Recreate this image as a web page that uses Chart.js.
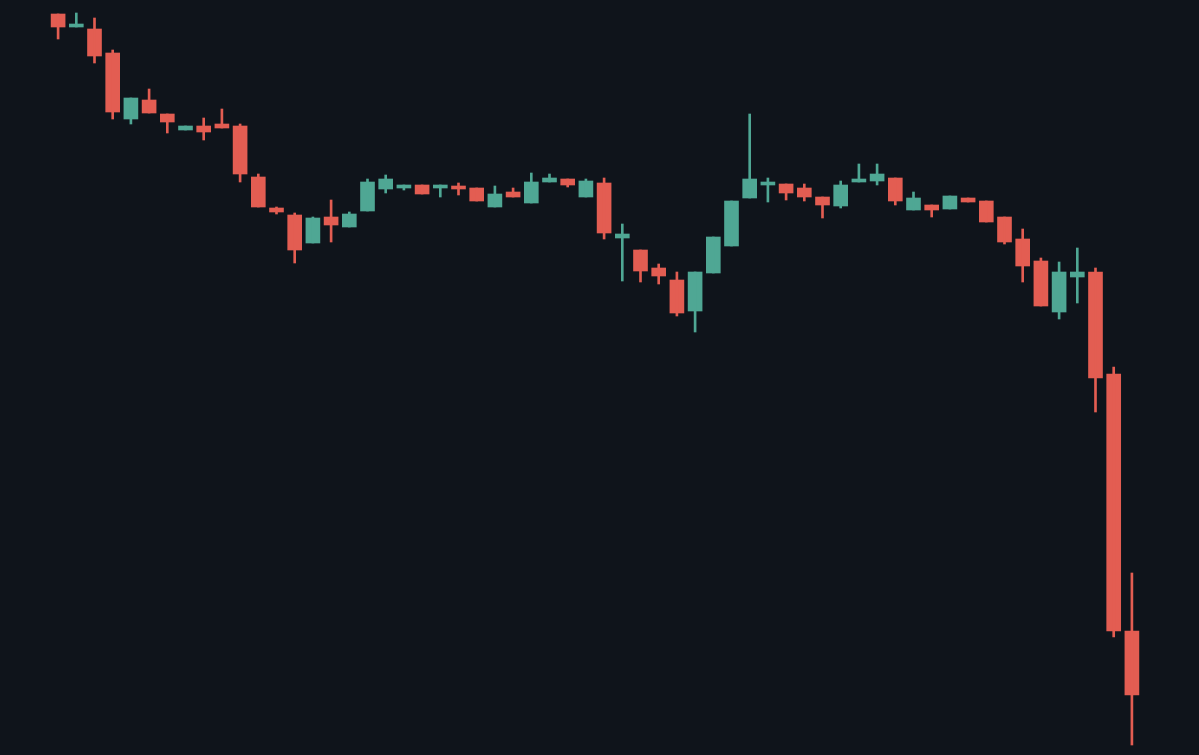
<!DOCTYPE html>
<html>
<head>
<meta charset="utf-8">
<script src="https://cdn.jsdelivr.net/npm/chart.js@4.4.1/dist/chart.umd.min.js"></script>
<style>
    html, body { margin: 0; padding: 0; background: #0f141b; }
    #wrap { width: 1199px; height: 755px; }
</style>
</head>
<body>
<div id="wrap"><canvas id="candles"></canvas></div>
<script>
// OHLC values (60 sessions)
const sessions = Array.from({ length: 60 }, (_, i) => String(i + 1));
const open  = [741,728,726,702,636,655,641,625,629,631,629,578,547,540,512,538,528,544,566,567,
               570,567,569,567,548,563,552,573,576,558,572,517,505,487,475,444,482,509,557,570,
               571,567,558,549,573,574,577,545,550,546,557,554,538,516,494,443,478,483,381,124];
const high  = [741,742,737,705,657,666,641,629,637,646,631,581,548,542,538,555,543,576,580,570,
               570,570,572,567,569,567,582,581,576,576,577,531,505,491,483,483,518,554,641,577,
               571,571,558,574,591,591,577,563,550,559,557,554,538,526,497,493,507,487,388,182];
const low   = [716,728,692,636,631,642,622,625,615,627,573,548,541,492,512,513,528,544,562,565,
               561,558,560,554,548,558,552,573,568,558,516,474,473,471,439,423,482,509,557,553,
               555,554,537,547,573,570,550,545,538,546,553,533,511,473,449,436,452,343,118,10];
const close = [728,731,699,643,657,642,633,629,623,627,581,548,543,505,537,530,541,573,576,570,
               561,570,566,554,561,558,573,577,570,574,522,521,484,479,442,483,518,554,576,573,
               562,558,550,570,576,581,554,557,545,559,553,533,513,489,449,483,483,377,124,60];

const upColor = '#4fa794';
const downColor = '#e35d52';
const colors = close.map((c, i) => (c >= open[i] ? upColor : downColor));

const ctx = document.getElementById('candles').getContext('2d');
const chart = new Chart(ctx, {
    type: 'bar',
    data: {
        labels: sessions,
        datasets: [{
            // wicks
            data: sessions.map((_, i) => [low[i], high[i]]),
            backgroundColor: colors,
            barThickness: 2,
            borderWidth: 0,
            borderSkipped: false,
            grouped: false
        }, {
            // bodies
            data: sessions.map((_, i) => [open[i], close[i]]),
            backgroundColor: colors,
            barThickness: 14,
            minBarLength: 3,
            borderWidth: 0,
            borderSkipped: false,
            grouped: false
        }]
    },
    options: {
        responsive: true,
        maintainAspectRatio: false,
        animation: false,
        layout: { padding: { left: 49, right: 58, top: 0, bottom: 0 } },
        plugins: { legend: { display: false }, tooltip: { enabled: false } },
        scales: {
            x: { display: false, offset: true },
            y: { display: false, min: 0, max: 755 }
        }
    }
});
</script>
</body>
</html>
